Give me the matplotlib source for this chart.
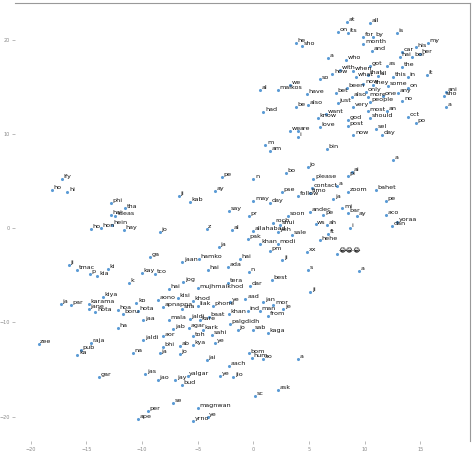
import matplotlib
matplotlib.use("Agg")
import matplotlib.pyplot as plt

# word embedding projection (t-SNE style)
words = [
    "at", "all", "on", "its", "for", "by", "is", "he", "sho", "month", "and", "his", "my",
    "car", "hai", "her", "bor", "a", "who", "the", "as", "got", "with", "when", "how",
    "what", "that", "all", "this", "in", "it", "so", "malkos", "al", "we", "have", "bet",
    "been", "now", "they", "some", "on", "only", "any", "one", "more", "also", "people",
    "no", "ani", "sho", "a", "had", "be", "also", "just", "very", "most", "an", "want",
    "know", "god", "should", "post", "oct", "po", "love", "we", "are", "i", "now", "sel",
    "day", "m", "am", "bin",
    "a", "jo", "ai", "pi", "please", "pe", "n", "bo", "ay", "pse", "contact", "a", "zoom",
    "bahet", "follow", "timo", "may", "day", "ja", "pe", "say", "pr", "soon", "andec", "pe",
    "mi", "bar", "ay", "aco", "yoraa", "dan", "roch", "shui", "ws", "ah", "i", "z", "al",
    "allahabad", "yeh", "sale", "ft", "hehe", "pak", "khan", "modi", "ja", "pm", "xx",
    "😂😂😂", "ji", "hai", "a", "ada", "n", "s", "best", "dar", "ji",
    "lfy", "ho", "hi", "phi", "tha", "hai", "ideas", "ho", "hon", "hein", "hay", "jo", "ji",
    "kab", "ga", "jaan", "hamko", "hai", "ji", "tmac", "ki", "p", "kia", "kay", "tco", "k",
    "jog", "hai", "mujhmaikhod", "tera",
    "kiya", "ko", "aono", "kisi", "khod", "ja", "par", "karama", "jane", "hota", "hoa",
    "boru", "hota", "apnapna", "sna", "liak", "phone", "ye", "aad", "jan", "mor", "je",
    "ind", "khan", "man", "from", "jaa", "mala", "jaldi", "kare", "baat", "palgdidh", "ha",
    "jab", "agar", "kark", "jo", "sab", "kaga", "zee", "raja", "pub", "ka", "jaldi", "aor",
    "toh", "sahi", "ye", "bhi", "ab", "kya", "na", "ja", "jo", "jai", "bom", "hum", "ao",
    "aach", "a", "gar", "jas", "jao", "jay", "yalgar", "bud", "ye", "jio", "ask", "sc", "se",
    "per", "magnwan", "ye", "ape", "yrno",
]
xs = [
    8.4, 10.5, 7.6, 8.5, 9.9, 10.8, 12.9, 3.8, 4.4, 9.9, 10.7, 14.6, 15.7,
    13.4, 13.2, 15.0, 14.3, 6.7, 8.3, 13.4, 12.0, 10.5, 7.8, 9.0, 7.1,
    9.2, 10.3, 11.2, 12.6, 13.9, 15.6, 6.0, 2.2, 0.6, 3.3, 4.8, 7.4,
    8.4, 9.9, 10.8, 12.1, 13.9, 10.1, 13.0, 11.7, 10.3, 8.9, 10.5,
    13.4, 17.3, 17.1, 17.3, 0.9, 3.8, 4.9, 7.6, 9.0, 10.3, 12.0, 6.5,
    5.8, 8.5, 10.5, 8.5, 13.9, 14.6, 6.0, 3.3, 4.0, 4.0, 9.0, 11.0,
    11.6, 1.1, 1.5, 6.6,
    12.6, 4.9, 8.9, 8.5, 5.4, -2.8, 0.0, 2.9, -3.4, 2.6, 5.3, 7.5, 8.5,
    11.0, 4.0, 5.1, 0.0, 1.5, 7.2, 11.9, -2.2, -0.4, 3.1, 5.1, 6.3,
    8.0, 8.5, 9.3, 11.9, 12.9, 12.5, 1.8, 2.4, 5.6, 6.6, 8.7, -4.2, -1.9,
    0.0, 2.2, 3.5, 6.7, 6.0, -0.5, 0.6, 2.2, -3.1, 1.5, 4.8,
    7.5, 2.6, -1.2, 9.5, -2.3, -0.4, 4.9, 1.7, -0.3, 5.1,
    -17.2, -18.1, -16.7, -12.8, -11.5, -12.8, -12.4, -14.6, -13.7, -12.7, -11.6, -8.4, -6.7,
    -5.7, -9.3, -6.4, -4.9, -4.1, -16.6, -15.8, -13.1, -14.7, -14.0, -10.0, -8.8, -11.2,
    -6.3, -7.6, -5.0, -2.3,
    -13.5, -10.5, -8.6, -6.8, -5.4, -17.3, -16.4, -14.8, -14.8, -14.2, -12.2,
    -11.7, -10.4, -8.1, -6.4, -5.0, -3.6, -2.1, -0.7, 0.9, 1.8, 2.7,
    -0.5, -2.2, 0.6, 1.3, -9.9, -7.6, -5.7, -4.8, -4.0, -2.1, -12.2,
    -7.2, -5.8, -4.5, -1.4, 0.0, 1.3, -19.3, -14.6, -15.5, -15.8, -9.9, -8.1,
    -5.4, -3.7, -3.4, -8.1, -6.6, -5.4, -10.8, -8.4, -6.6, -4.2, -0.4, -0.1, 0.9,
    -2.2, 4.0, -13.9, -9.7, -8.6, -7.0, -5.9, -6.4, -3.0, -1.8, 2.2, 0.2, -7.2,
    -9.5, -5.0, -4.1, -10.4, -5.4,
]
ys = [
    21.9, 21.8, 20.8, 20.7, 20.3, 20.3, 20.7, 19.7, 19.4, 19.6, 18.8, 19.2, 19.7,
    18.7, 18.2, 18.5, 18.2, 18.1, 17.9, 17.1, 17.2, 17.2, 16.8, 16.7, 16.4,
    16.1, 16.3, 16.2, 16.1, 16.1, 16.3, 15.8, 14.7, 14.7, 15.2, 14.3, 14.4,
    14.9, 15.3, 15.2, 15.1, 14.9, 14.5, 14.4, 14.0, 13.9, 13.9, 13.4,
    13.5, 14.5, 14.0, 12.9, 12.3, 12.9, 13.1, 13.3, 12.9, 12.4, 12.5, 12.1,
    11.7, 11.5, 11.7, 10.9, 11.8, 11.2, 10.8, 10.3, 10.3, 9.7, 9.9, 10.5,
    9.9, 8.8, 8.2, 8.4,
    7.2, 6.5, 6.0, 5.5, 5.2, 5.4, 5.2, 5.9, 4.0, 3.9, 4.3, 4.5, 3.9,
    4.1, 3.4, 3.7, 2.9, 2.7, 3.1, 2.9, 1.8, 1.3, 1.3, 1.7, 1.4,
    2.1, 1.6, 1.3, 1.4, 0.7, 0.2, 0.6, 0.3, 0.4, 0.3, 0.0, -0.1, -0.2,
    -0.3, -0.4, -0.7, -0.6, -1.3, -1.1, -1.7, -1.7, -2.0, -2.4, -2.5,
    -2.7, -3.4, -3.3, -4.5, -4.1, -4.6, -4.4, -5.5, -6.1, -6.8,
    5.2, 4.1, 3.9, 2.7, 2.1, 1.4, 1.3, -0.1, 0.0, 0.3, -0.2, -0.4, 3.4,
    2.8, -3.1, -3.6, -3.3, -4.4, -3.9, -4.4, -4.3, -4.9, -5.1, -4.8, -4.9, -5.8,
    -5.7, -6.5, -6.4, -5.8,
    -7.3, -7.9, -7.6, -7.4, -7.7, -8.0, -8.2, -8.0, -8.6, -8.9, -8.7,
    -9.1, -8.8, -8.4, -8.6, -8.3, -8.3, -7.8, -7.5, -7.8, -8.2, -8.6,
    -8.8, -9.1, -8.8, -9.3, -9.8, -9.7, -9.6, -9.8, -9.4, -10.2, -10.6,
    -10.7, -10.6, -10.8, -10.8, -10.8, -11.1, -12.3, -12.2, -12.9, -13.5, -11.9, -11.5,
    -11.5, -11.3, -12.2, -12.6, -12.5, -12.4, -13.2, -13.3, -13.4, -14.0, -13.3, -13.8, -13.9,
    -14.6, -13.9, -15.8, -15.5, -16.1, -16.1, -15.7, -16.6, -15.7, -15.8, -17.2, -17.8, -18.6,
    -19.4, -19.1, -20.0, -20.3, -20.5,
]
x_ticks = [-20, -15, -10, -5, 0, 5, 10, 15]
y_ticks = [-20, -10, 0, 10, 20]

fig = plt.figure(figsize=(4.74, 4.57), dpi=100)
ax = fig.add_axes([0.032, 0.035, 0.96, 0.958])
ax.scatter(xs, ys, s=1.5, color="#5b9bd5", zorder=2)
for w, x, y in zip(words, xs, ys):
    ax.text(x + 0.15, y + 0.1, w, fontsize=4.6, color="#111111",
            family=["DejaVu Sans", "Noto Sans CJK SC"], zorder=3)

ax.set_xlim(-21.4, 19.5)
ax.set_ylim(-22.6, 23.9)
ax.set_xticks(x_ticks)
ax.set_yticks(y_ticks)
ax.tick_params(labelsize=3.5, colors="#888888", length=2, width=0.4, pad=2)
for sp in ax.spines.values():
    sp.set_color("#999999")
    sp.set_linewidth(0.8)
ax.spines["left"].set_visible(False)
ax.spines["bottom"].set_visible(False)

fig.savefig("out.png", dpi=100)
